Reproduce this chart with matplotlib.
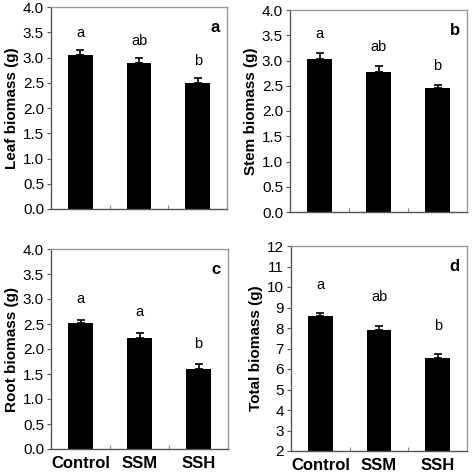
import matplotlib
matplotlib.use("Agg")
import matplotlib.pyplot as plt

plt.rcParams["font.family"] = ["Liberation Sans", "DejaVu Sans"]

# === data ===
groups = ["Control", "SSM", "SSH"]

leaf_mean = [3.05, 2.90, 2.50]
leaf_err = [0.10, 0.09, 0.09]
leaf_letters = ["a", "ab", "b"]

stem_mean = [3.02, 2.77, 2.45]
stem_err = [0.13, 0.12, 0.07]
stem_letters = ["a", "ab", "b"]

root_mean = [2.52, 2.22, 1.60]
root_err = [0.07, 0.10, 0.10]
root_letters = ["a", "a", "b"]

total_mean = [8.60, 7.90, 6.55]
total_err = [0.12, 0.22, 0.18]
total_letters = ["a", "ab", "b"]

W, H = 474, 472
fig = plt.figure(figsize=(W / 100, H / 100), dpi=100)


def px_axes(left, top, right, bottom):
    return fig.add_axes([left / W, 1 - bottom / H, (right - left) / W, (bottom - top) / H])


panels = [
    # box in px, means, errs, letters, ylabel, ylim, yticks, tag, letter offset, show x labels
    ((51, 7, 227, 209), leaf_mean, leaf_err, leaf_letters, "Leaf biomass (g)",
     (0, 4), [0, 0.5, 1, 1.5, 2, 2.5, 3, 3.5, 4], "a", 0.2, False),
    ((290, 10, 467, 212), stem_mean, stem_err, stem_letters, "Stem biomass (g)",
     (0, 4), [0, 0.5, 1, 1.5, 2, 2.5, 3, 3.5, 4], "b", 0.24, False),
    ((51, 249, 228, 449), root_mean, root_err, root_letters, "Root biomass (g)",
     (0, 4), [0, 0.5, 1, 1.5, 2, 2.5, 3, 3.5, 4], "c", 0.27, True),
    ((291, 246, 467, 451), total_mean, total_err, total_letters, "Total biomass (g)",
     (2, 12), list(range(2, 13)), "d", 1.05, True),
]

for box, means, errs, letters, ylabel, ylim, yticks, tag, off, show_x in panels:
    ax = px_axes(*box)
    x = range(len(groups))
    ax.bar(x, means, width=0.42, color="black", zorder=2)
    ax.errorbar(x, means, yerr=[[0] * len(errs), errs], fmt="none",
                ecolor="black", elinewidth=1.2, capsize=3, capthick=1.2, zorder=3)
    for i in x:
        ax.text(i, means[i] + errs[i] + off, letters[i], ha="center", va="bottom",
                fontsize=10.5)
    ax.set_xlim(-0.5, 2.5)
    ax.set_ylim(*ylim)
    ax.set_yticks(yticks)
    if ylim[1] == 4:
        ax.set_yticklabels([f"{v:.1f}" for v in yticks])
    ax.tick_params(axis="y", labelsize=11, length=3, pad=2, direction="out", color="#555555")
    ax.set_xticks([0.5, 1.5])
    ax.tick_params(axis="x", length=3, direction="in", color="#888888")
    ax.set_xticks(list(x), minor=True)
    if show_x:
        ax.set_xticklabels(groups, minor=True, fontsize=12, fontweight="bold")
    ax.tick_params(axis="x", which="minor", length=0, pad=5)
    ax.set_xticklabels([])
    ax.set_ylabel(ylabel, fontsize=11, fontweight="bold", labelpad=3)
    for s in ["left", "bottom"]:
        ax.spines[s].set_color("#555555")
        ax.spines[s].set_linewidth(1.0)
    for s in ["top", "right"]:
        ax.spines[s].set_color("#999999")
        ax.spines[s].set_linewidth(1.0)
    ax.text(0.93, 0.9, tag, transform=ax.transAxes, ha="center", va="center",
            fontsize=12, fontweight="bold")

fig.savefig("out.png", dpi=100)
